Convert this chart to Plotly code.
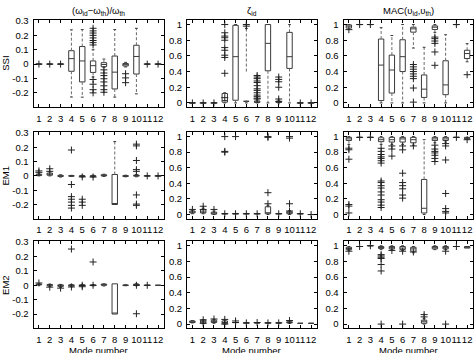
import plotly.graph_objects as go

modes = list(range(1, 13))
tick_labels = [str(m) for m in modes]

# ---------------- SSI : (w_id - w_th)/w_th ----------------
ssi_freq_q1 = [0, 0, 0, -0.05, -0.124, -0.058, -0.018, -0.173, -0.013, -0.069, 0, 0]
ssi_freq_med = [0, 0, 0, 0.038, 0.022, -0.011, -0.003, -0.056, -0.004, 0.053, 0, 0]
ssi_freq_q3 = [0, 0, 0, 0.093, 0.122, 0.022, 0.010, 0.056, 0.004, 0.131, 0, 0]
ssi_freq_lo = [0, 0, 0, -0.229, -0.23, -0.09, -0.025, -0.23, -0.02, -0.207, 0, 0]
ssi_freq_hi = [0, 0, 0, 0.238, 0.24, 0.10, 0.035, 0.24, 0.012, 0.249, 0, 0]
ssi_freq_out = [[0], [0], [0], [], [],
                [0.249, 0.231, 0.216, 0.2, 0.182, 0.164, 0.149, 0.133, -0.107, -0.14, -0.178, -0.2],
                [-0.04, -0.062, -0.08, -0.102, -0.124, -0.151, -0.178, -0.196],
                [], [-0.067, -0.096, -0.129], [], [0], [0]]

# ---------------- SSI : zeta_id ----------------
ssi_damp_q1 = [0, 0, 0, 0.01, 0.034, 0.034, 0.005, 0.41, 0.005, 0.44, 0, 0]
ssi_damp_med = [0, 0, 0, 0.03, 0.59, 0.02, 0.01, 0.76, 0.01, 0.59, 0, 0]
ssi_damp_q3 = [0, 0, 0, 0.12, 0.99, 0.40, 0.025, 1.0, 0.02, 0.90, 0, 0]
ssi_damp_lo = [0, 0, 0, 0.0, 0.0, 0.0, 0.0, 0.0, 0.0, 0.0, 0, 0]
ssi_damp_hi = [0, 0, 0, 0.13, 1.0, 0.95, 0.04, 1.0, 0.035, 1.0, 0, 0]
ssi_damp_out = [[0], [0], [0],
                [1.0, 0.895, 0.853, 0.832, 0.8, 0.706, 0.672, 0.609, 0.58, 0.378, 0.067],
                [], [1.0, 0.98],
                [0.35, 0.33, 0.31, 0.28, 0.26, 0.22, 0.18, 0.16, 0.13, 0.10, 0.08, 0.06, 0.05],
                [], [0.33, 0.30, 0.27, 0.20, 0.05, 0.02], [], [0], [0]]

# ---------------- SSI : MAC ----------------
ssi_mac_q1 = [0.955, 1, 1, 0.03, 0.126, 0.40, 0.903, 0.07, 0.937, 0.105, 1.0, 0.567]
ssi_mac_med = [0.98, 1, 1, 0.483, 0.42, 0.59, 0.945, 0.176, 0.966, 0.23, 1.0, 0.63]
ssi_mac_q3 = [0.995, 1, 1, 0.815, 0.61, 0.806, 0.966, 0.357, 0.983, 0.538, 1.0, 0.672]
ssi_mac_lo = [0.94, 1, 1, 0.0, 0.0, 0.0, 0.70, 0.0, 0.9, 0.0, 1.0, 0.525]
ssi_mac_hi = [1.0, 1, 1, 0.96, 0.86, 1.0, 1.0, 0.71, 1.0, 0.87, 1.0, 0.756]
ssi_mac_out = [[0.935], [1.0], [1.0], [], [], [],
               [0.49, 0.46, 0.43, 0.40, 0.37, 0.34, 0.31, 0.19, 0.01],
               [], [0.84, 0.82, 0.79, 0.76, 0.65, 0.48], [], [1.0], [0.36]]

# ---------------- EM1 : frequency ----------------
em1_freq_q1 = [0.003, 0.005, -0.004, -0.002, -0.004, -0.004, 0.0, -0.2, -0.004, -0.002, 0, 0]
em1_freq_med = [0.008, 0.012, 0.0, 0.0, -0.001, -0.001, 0.004, -0.2, 0.0, 0.003, 0, 0]
em1_freq_q3 = [0.012, 0.02, 0.004, 0.002, 0.002, 0.002, 0.008, 0.01, 0.002, 0.006, 0, 0]
em1_freq_lo = [0.0, 0.0, -0.008, -0.004, -0.008, -0.008, -0.004, -0.2, -0.006, -0.006, 0, 0]
em1_freq_hi = [0.02, 0.03, 0.008, 0.004, 0.004, 0.005, 0.012, 0.24, 0.005, 0.01, 0, 0]
em1_freq_out = [[0.035, 0.025], [0.05, 0.032], [],
                [0.181, -0.06, -0.145, -0.163, -0.183, -0.206, -0.225],
                [-0.163, -0.183, -0.206, -0.007], [-0.008], [], [], [],
                [0.222, 0.21, 0.108, 0.044, 0.032, -0.133, -0.197, -0.206], [0], [0]]

# ---------------- EM1 : damping ----------------
em1_damp_q1 = [0.02, 0.02, 0.005, 0.01, 0.01, 0.01, 0.01, 0.01, 0.01, 0.01, 0.01, 0.0]
em1_damp_med = [0.03, 0.03, 0.01, 0.01, 0.01, 0.01, 0.01, 0.02, 0.01, 0.02, 0.01, 0.0]
em1_damp_q3 = [0.045, 0.06, 0.03, 0.01, 0.01, 0.01, 0.01, 0.10, 0.01, 0.035, 0.01, 0.0]
em1_damp_lo = [0.01, 0.01, 0.0, 0.01, 0.01, 0.01, 0.01, 0.0, 0.01, 0.0, 0.01, 0.0]
em1_damp_hi = [0.055, 0.08, 0.045, 0.01, 0.01, 0.01, 0.01, 0.12, 0.01, 0.05, 0.01, 0.0]
em1_damp_out = [[0.065], [0.106, 0.065], [0.065], [1.0, 0.81, 0.8, 0.01], [1.0, 0.01], [0.01],
                [0.01], [0.138, 0.28, 0.99, 1.0], [0.01], [0.138, 1.0, 0.98, 0.045], [0.01], [0.0]]

# ---------------- EM1 : MAC ----------------
em1_mac_q1 = [0.95, 0.99, 0.99, 0.935, 0.93, 0.93, 0.92, 0.02, 0.95, 0.95, 0.99, 0.97]
em1_mac_med = [0.97, 0.99, 0.99, 0.96, 0.96, 0.97, 0.96, 0.08, 0.97, 0.97, 0.99, 0.98]
em1_mac_q3 = [0.99, 0.99, 0.99, 0.985, 0.99, 0.99, 0.99, 0.45, 0.99, 0.99, 0.99, 0.99]
em1_mac_lo = [0.90, 0.99, 0.99, 0.90, 0.90, 0.90, 0.89, 0.0, 0.92, 0.93, 0.99, 0.97]
em1_mac_hi = [1.0, 0.99, 0.99, 1.0, 1.0, 1.0, 1.0, 0.96, 1.0, 1.0, 0.99, 0.99]
em1_mac_out = [[0.851, 0.831, 0.71, 0.128, 0.108, 0.02], [0.99], [0.99],
               [0.85, 0.81, 0.77, 0.74, 0.72, 0.69, 0.66, 0.43, 0.41, 0.37, 0.34, 0.29,
                0.25, 0.19, 0.16, 0.12, 0.09],
               [0.88, 0.84, 0.75],
               [0.88, 0.83, 0.53, 0.41, 0.37, 0.33, 0.25, 0.21],
               [0.88], [],
               [0.89, 0.84, 0.81, 0.79, 0.76, 0.72, 0.68],
               [0.91, 0.88, 0.70, 0.27, 0.076, 0.04, 0.02], [0.99], [0.96]]

# ---------------- EM2 : frequency ----------------
em2_freq_q1 = [0.003, -0.003, -0.008, -0.005, -0.002, -0.002, 0.0, -0.2, -0.002, 0.0, 0, 0]
em2_freq_med = [0.006, 0.002, -0.003, 0.0, 0.0, 0.0, 0.004, -0.2, 0.0, 0.004, 0, 0]
em2_freq_q3 = [0.008, 0.005, 0.003, 0.003, 0.002, 0.002, 0.008, 0.01, 0.002, 0.008, 0, 0]
em2_freq_lo = [0.0, -0.008, -0.015, -0.01, -0.004, -0.004, -0.005, -0.2, -0.003, -0.003, 0, 0]
em2_freq_hi = [0.01, 0.008, 0.006, 0.006, 0.004, 0.004, 0.01, 0.01, 0.003, 0.01, 0, 0]
em2_freq_out = [[0.016], [-0.013], [-0.02], [0.252, -0.012], [0.0, -0.01], [0.162, 0.0],
                [], [], [], [0.0, -0.198], [0], []]

# ---------------- EM2 : damping ----------------
em2_damp_q1 = [0.02, 0.015, 0.02, 0.005, 0.02, 0.015, 0.015, 0.015, 0.015, 0.015, 0.01, 0.01]
em2_damp_med = [0.03, 0.03, 0.035, 0.02, 0.02, 0.015, 0.015, 0.015, 0.015, 0.02, 0.01, 0.01]
em2_damp_q3 = [0.04, 0.05, 0.05, 0.04, 0.02, 0.015, 0.015, 0.015, 0.015, 0.03, 0.01, 0.01]
em2_damp_lo = [0.015, 0.005, 0.01, 0.0, 0.02, 0.015, 0.015, 0.015, 0.015, 0.01, 0.01, 0.01]
em2_damp_hi = [0.045, 0.055, 0.06, 0.05, 0.02, 0.015, 0.015, 0.015, 0.015, 0.04, 0.01, 0.01]
em2_damp_out = [[], [0.055, 0.01], [0.065], [0.06, 0.0], [0.02, 0.04], [0.015], [0.02],
                [0.015], [0.015], [0.045], [], []]

# ---------------- EM2 : MAC ----------------
em2_mac_q1 = [0.95, 0.99, 1.0, 0.965, 0.96, 0.95, 0.93, 0.01, 0.96, 0.96, 0.99, 0.97]
em2_mac_med = [0.965, 0.99, 1.0, 0.98, 0.975, 0.97, 0.96, 0.03, 0.975, 0.975, 0.99, 0.98]
em2_mac_q3 = [0.98, 0.99, 1.0, 0.99, 0.99, 0.99, 0.98, 0.05, 0.99, 0.99, 0.99, 0.99]
em2_mac_lo = [0.94, 0.99, 1.0, 0.95, 0.95, 0.94, 0.91, 0.0, 0.95, 0.95, 0.99, 0.97]
em2_mac_hi = [0.99, 0.99, 1.0, 1.0, 1.0, 1.0, 0.99, 0.07, 1.0, 1.0, 0.99, 0.99]
em2_mac_out = [[0.93], [0.99], [1.0], [0.887, 0.87, 0.853, 0.837, 0.76, 0.678, 0.0], [0.94],
               [0.93, 0.0], [0.92], [0.092, 0.121], [], [0.93, 0.0], [0.99], []]

panels = [
    (ssi_freq_q1, ssi_freq_med, ssi_freq_q3, ssi_freq_lo, ssi_freq_hi, ssi_freq_out),
    (ssi_damp_q1, ssi_damp_med, ssi_damp_q3, ssi_damp_lo, ssi_damp_hi, ssi_damp_out),
    (ssi_mac_q1, ssi_mac_med, ssi_mac_q3, ssi_mac_lo, ssi_mac_hi, ssi_mac_out),
    (em1_freq_q1, em1_freq_med, em1_freq_q3, em1_freq_lo, em1_freq_hi, em1_freq_out),
    (em1_damp_q1, em1_damp_med, em1_damp_q3, em1_damp_lo, em1_damp_hi, em1_damp_out),
    (em1_mac_q1, em1_mac_med, em1_mac_q3, em1_mac_lo, em1_mac_hi, em1_mac_out),
    (em2_freq_q1, em2_freq_med, em2_freq_q3, em2_freq_lo, em2_freq_hi, em2_freq_out),
    (em2_damp_q1, em2_damp_med, em2_damp_q3, em2_damp_lo, em2_damp_hi, em2_damp_out),
    (em2_mac_q1, em2_mac_med, em2_mac_q3, em2_mac_lo, em2_mac_hi, em2_mac_out),
]

col_titles = ["(ω<sub>id</sub>−ω<sub>th</sub>)/ω<sub>th</sub>", "ζ<sub>id</sub>",
              "MAC(υ<sub>id</sub>,υ<sub>th</sub>)"]
row_titles = ["SSI", "EM1", "EM2"]

W, H = 474, 353
col_px = [(33.5, 163.5), (187, 316.5), (343.5, 472.5)]
row_px = [(15.5, 104), (129.5, 217.5), (240.5, 329)]

BOX_COLOR = "#3a3a3a"
WHISK_COLOR = "#6a6a6a"
CAP_HALF = 0.13
FONT = "Liberation Sans, Arial, sans-serif"

fig = go.Figure()
layout = dict(width=W, height=H, margin=dict(l=0, r=0, t=0, b=0),
              paper_bgcolor="white", plot_bgcolor="white", showlegend=False,
              font=dict(family=FONT, size=9.5, color="black"))
annotations = []

for idx, (q1, med, q3, lo, hi, out) in enumerate(panels):
    r, c = divmod(idx, 3)
    n = idx + 1
    xa = "x" if n == 1 else f"x{n}"
    ya = "y" if n == 1 else f"y{n}"

    # whiskers (dashed) and caps
    wx, wy, cx, cy = [], [], [], []
    for m, a, b, l, h in zip(modes, q1, q3, lo, hi):
        if h > b:
            wx += [m, m, None]; wy += [b, h, None]
            cx += [m - CAP_HALF, m + CAP_HALF, None]; cy += [h, h, None]
        if l < a:
            wx += [m, m, None]; wy += [a, l, None]
            cx += [m - CAP_HALF, m + CAP_HALF, None]; cy += [l, l, None]
    fig.add_trace(go.Scatter(x=wx, y=wy, mode="lines", xaxis=xa, yaxis=ya,
                             line=dict(color=WHISK_COLOR, width=1, dash="3px,2px"),
                             hoverinfo="skip"))
    fig.add_trace(go.Scatter(x=cx, y=cy, mode="lines", xaxis=xa, yaxis=ya,
                             line=dict(color=BOX_COLOR, width=1), hoverinfo="skip"))

    fig.add_trace(go.Box(x=modes, q1=q1, median=med, q3=q3, lowerfence=q1, upperfence=q3,
                         width=0.5, whiskerwidth=0, boxpoints=False,
                         line=dict(color=BOX_COLOR, width=1),
                         fillcolor="rgba(0,0,0,0)", xaxis=xa, yaxis=ya, hoverinfo="skip"))

    ox, oy = [], []
    for m, vals in zip(modes, out):
        for v in vals:
            ox.append(m); oy.append(v)
    fig.add_trace(go.Scatter(x=ox, y=oy, mode="markers", xaxis=xa, yaxis=ya,
                             marker=dict(symbol="cross-thin", size=5,
                                         line=dict(color="#222", width=1)),
                             hoverinfo="skip"))

    x0, x1 = col_px[c]
    y0, y1 = row_px[r]
    axis_common = dict(showline=True, linecolor="black", linewidth=1, mirror="ticks",
                       ticks="inside", ticklen=3, tickcolor="black", showgrid=False,
                       zeroline=False, tickfont=dict(family=FONT, size=9.5))
    layout["xaxis" if n == 1 else f"xaxis{n}"] = dict(
        axis_common, domain=[x0 / W, x1 / W], range=[0.5, 12.5],
        tickvals=modes, ticktext=tick_labels, tickangle=0, anchor=ya,
        ticklabelstandoff=2)
    if c == 0:
        yr = [-0.3, 0.305]
        tv = [-0.2, -0.1, 0, 0.1, 0.2, 0.3]
        tt = ["-0.2", "-0.1", "0", "0.1", "0.2", "0.3"]
    else:
        yr = [-0.055, 1.055]
        tv = [0, 0.2, 0.4, 0.6, 0.8, 1]
        tt = ["0", "0.2", "0.4", "0.6", "0.8", "1"]
    layout["yaxis" if n == 1 else f"yaxis{n}"] = dict(
        axis_common, domain=[1 - y1 / H, 1 - y0 / H], range=yr,
        tickvals=tv, ticktext=tt, anchor=xa, ticklabelstandoff=2)

for c, t in enumerate(col_titles):
    x0, x1 = col_px[c]
    annotations.append(dict(text=t, x=(x0 + x1) / 2 / W, y=1 - 6 / H, xref="paper", yref="paper",
                            showarrow=False, xanchor="center", yanchor="middle",
                            font=dict(family=FONT, size=9.5)))
    annotations.append(dict(text="Mode number", x=(x0 + x1) / 2 / W, y=1 - 351 / H,
                            xref="paper", yref="paper", showarrow=False,
                            xanchor="center", yanchor="middle",
                            font=dict(family=FONT, size=9.5)))
for r, t in enumerate(row_titles):
    y0, y1 = row_px[r]
    annotations.append(dict(text=t, x=6 / W, y=1 - (y0 + y1) / 2 / H, xref="paper", yref="paper",
                            showarrow=False, textangle=-90, xanchor="center", yanchor="middle",
                            font=dict(family=FONT, size=9.5)))

layout["annotations"] = annotations
fig.update_layout(**layout)
fig.write_html("out.html")
